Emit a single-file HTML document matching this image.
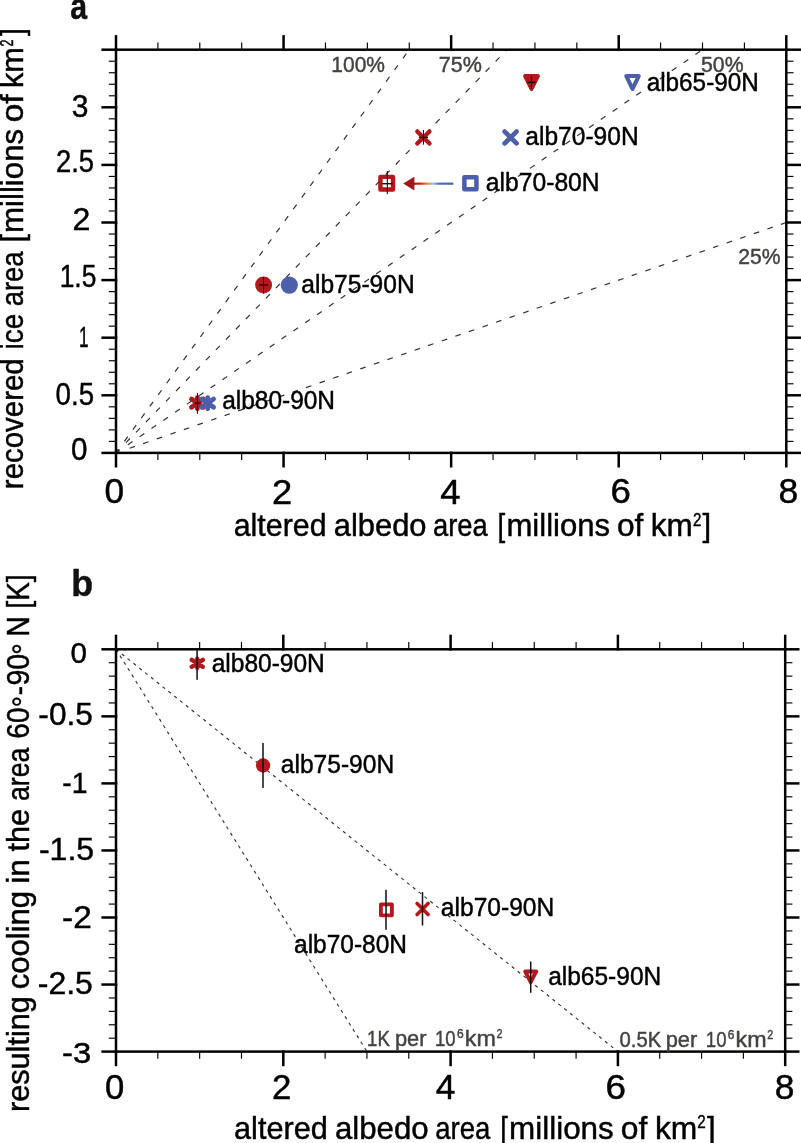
<!DOCTYPE html>
<html><head><meta charset="utf-8"><title>figure</title>
<style>html,body{margin:0;padding:0;background:#fff}svg{display:block}</style></head>
<body>
<svg width="801" height="1143" viewBox="0 0 801 1143" font-family="Liberation Sans, sans-serif">
<defs><linearGradient id="g" x1="0" x2="1" y1="0" y2="0"><stop offset="0" stop-color="#A01A1A"/><stop offset="0.18" stop-color="#C8241C"/><stop offset="0.36" stop-color="#F08C28"/><stop offset="0.5" stop-color="#8CC8F0"/><stop offset="0.64" stop-color="#5070C0"/><stop offset="1" stop-color="#4D5EAB"/></linearGradient></defs>
<rect width="801" height="1143" fill="#fff"/>
<line x1="124.44" y1="441.29" x2="409.26" y2="49.70" stroke="#333" stroke-width="1.2" stroke-dasharray="5.7 8.650"/>
<line x1="125.99" y1="442.60" x2="507.01" y2="49.70" stroke="#333" stroke-width="1.2" stroke-dasharray="5.7 8.650"/>
<line x1="127.83" y1="444.77" x2="702.51" y2="49.70" stroke="#333" stroke-width="1.2" stroke-dasharray="5.7 8.650"/>
<line x1="129.57" y1="448.24" x2="786.30" y2="222.50" stroke="#333" stroke-width="1.2" stroke-dasharray="5.7 8.650"/>
<circle cx="118.4" cy="450.5" r="1.45" fill="#333"/>
<rect x="116.00" y="49.70" width="670.30" height="403.20" fill="none" stroke="#000" stroke-width="2.5"/>
<line x1="116.00" y1="50.95" x2="116.00" y2="35.10" stroke="#000" stroke-width="2.5" />
<line x1="116.00" y1="451.65" x2="116.00" y2="467.50" stroke="#000" stroke-width="2.5" />
<line x1="157.89" y1="49.70" x2="157.89" y2="42.50" stroke="#000" stroke-width="1.15" />
<line x1="157.89" y1="452.90" x2="157.89" y2="460.10" stroke="#000" stroke-width="1.15" />
<line x1="199.79" y1="49.70" x2="199.79" y2="42.50" stroke="#000" stroke-width="1.15" />
<line x1="199.79" y1="452.90" x2="199.79" y2="460.10" stroke="#000" stroke-width="1.15" />
<line x1="241.68" y1="49.70" x2="241.68" y2="42.50" stroke="#000" stroke-width="1.15" />
<line x1="241.68" y1="452.90" x2="241.68" y2="460.10" stroke="#000" stroke-width="1.15" />
<line x1="283.57" y1="50.95" x2="283.57" y2="35.10" stroke="#000" stroke-width="2.5" />
<line x1="283.57" y1="451.65" x2="283.57" y2="467.50" stroke="#000" stroke-width="2.5" />
<line x1="325.47" y1="49.70" x2="325.47" y2="42.50" stroke="#000" stroke-width="1.15" />
<line x1="325.47" y1="452.90" x2="325.47" y2="460.10" stroke="#000" stroke-width="1.15" />
<line x1="367.36" y1="49.70" x2="367.36" y2="42.50" stroke="#000" stroke-width="1.15" />
<line x1="367.36" y1="452.90" x2="367.36" y2="460.10" stroke="#000" stroke-width="1.15" />
<line x1="409.26" y1="49.70" x2="409.26" y2="42.50" stroke="#000" stroke-width="1.15" />
<line x1="409.26" y1="452.90" x2="409.26" y2="460.10" stroke="#000" stroke-width="1.15" />
<line x1="451.15" y1="50.95" x2="451.15" y2="35.10" stroke="#000" stroke-width="2.5" />
<line x1="451.15" y1="451.65" x2="451.15" y2="467.50" stroke="#000" stroke-width="2.5" />
<line x1="493.04" y1="49.70" x2="493.04" y2="42.50" stroke="#000" stroke-width="1.15" />
<line x1="493.04" y1="452.90" x2="493.04" y2="460.10" stroke="#000" stroke-width="1.15" />
<line x1="534.94" y1="49.70" x2="534.94" y2="42.50" stroke="#000" stroke-width="1.15" />
<line x1="534.94" y1="452.90" x2="534.94" y2="460.10" stroke="#000" stroke-width="1.15" />
<line x1="576.83" y1="49.70" x2="576.83" y2="42.50" stroke="#000" stroke-width="1.15" />
<line x1="576.83" y1="452.90" x2="576.83" y2="460.10" stroke="#000" stroke-width="1.15" />
<line x1="618.72" y1="50.95" x2="618.72" y2="35.10" stroke="#000" stroke-width="2.5" />
<line x1="618.72" y1="451.65" x2="618.72" y2="467.50" stroke="#000" stroke-width="2.5" />
<line x1="660.62" y1="49.70" x2="660.62" y2="42.50" stroke="#000" stroke-width="1.15" />
<line x1="660.62" y1="452.90" x2="660.62" y2="460.10" stroke="#000" stroke-width="1.15" />
<line x1="702.51" y1="49.70" x2="702.51" y2="42.50" stroke="#000" stroke-width="1.15" />
<line x1="702.51" y1="452.90" x2="702.51" y2="460.10" stroke="#000" stroke-width="1.15" />
<line x1="744.41" y1="49.70" x2="744.41" y2="42.50" stroke="#000" stroke-width="1.15" />
<line x1="744.41" y1="452.90" x2="744.41" y2="460.10" stroke="#000" stroke-width="1.15" />
<line x1="786.30" y1="50.95" x2="786.30" y2="35.10" stroke="#000" stroke-width="2.5" />
<line x1="786.30" y1="451.65" x2="786.30" y2="467.50" stroke="#000" stroke-width="2.5" />
<line x1="117.25" y1="452.90" x2="101.40" y2="452.90" stroke="#000" stroke-width="2.5" />
<line x1="785.05" y1="452.90" x2="801.90" y2="452.90" stroke="#000" stroke-width="2.5" />
<line x1="117.25" y1="395.30" x2="101.40" y2="395.30" stroke="#000" stroke-width="2.5" />
<line x1="785.05" y1="395.30" x2="801.90" y2="395.30" stroke="#000" stroke-width="2.5" />
<line x1="117.25" y1="337.70" x2="101.40" y2="337.70" stroke="#000" stroke-width="2.5" />
<line x1="785.05" y1="337.70" x2="801.90" y2="337.70" stroke="#000" stroke-width="2.5" />
<line x1="117.25" y1="280.10" x2="101.40" y2="280.10" stroke="#000" stroke-width="2.5" />
<line x1="785.05" y1="280.10" x2="801.90" y2="280.10" stroke="#000" stroke-width="2.5" />
<line x1="117.25" y1="222.50" x2="101.40" y2="222.50" stroke="#000" stroke-width="2.5" />
<line x1="785.05" y1="222.50" x2="801.90" y2="222.50" stroke="#000" stroke-width="2.5" />
<line x1="117.25" y1="164.90" x2="101.40" y2="164.90" stroke="#000" stroke-width="2.5" />
<line x1="785.05" y1="164.90" x2="801.90" y2="164.90" stroke="#000" stroke-width="2.5" />
<line x1="117.25" y1="107.30" x2="101.40" y2="107.30" stroke="#000" stroke-width="2.5" />
<line x1="785.05" y1="107.30" x2="801.90" y2="107.30" stroke="#000" stroke-width="2.5" />
<line x1="117.25" y1="49.70" x2="101.40" y2="49.70" stroke="#000" stroke-width="2.5" />
<line x1="785.05" y1="49.70" x2="801.90" y2="49.70" stroke="#000" stroke-width="2.5" />
<line x1="116.00" y1="441.38" x2="108.80" y2="441.38" stroke="#000" stroke-width="1.15" />
<line x1="786.30" y1="441.38" x2="793.50" y2="441.38" stroke="#000" stroke-width="1.15" />
<line x1="116.00" y1="429.86" x2="108.80" y2="429.86" stroke="#000" stroke-width="1.15" />
<line x1="786.30" y1="429.86" x2="793.50" y2="429.86" stroke="#000" stroke-width="1.15" />
<line x1="116.00" y1="418.34" x2="108.80" y2="418.34" stroke="#000" stroke-width="1.15" />
<line x1="786.30" y1="418.34" x2="793.50" y2="418.34" stroke="#000" stroke-width="1.15" />
<line x1="116.00" y1="406.82" x2="108.80" y2="406.82" stroke="#000" stroke-width="1.15" />
<line x1="786.30" y1="406.82" x2="793.50" y2="406.82" stroke="#000" stroke-width="1.15" />
<line x1="116.00" y1="383.78" x2="108.80" y2="383.78" stroke="#000" stroke-width="1.15" />
<line x1="786.30" y1="383.78" x2="793.50" y2="383.78" stroke="#000" stroke-width="1.15" />
<line x1="116.00" y1="372.26" x2="108.80" y2="372.26" stroke="#000" stroke-width="1.15" />
<line x1="786.30" y1="372.26" x2="793.50" y2="372.26" stroke="#000" stroke-width="1.15" />
<line x1="116.00" y1="360.74" x2="108.80" y2="360.74" stroke="#000" stroke-width="1.15" />
<line x1="786.30" y1="360.74" x2="793.50" y2="360.74" stroke="#000" stroke-width="1.15" />
<line x1="116.00" y1="349.22" x2="108.80" y2="349.22" stroke="#000" stroke-width="1.15" />
<line x1="786.30" y1="349.22" x2="793.50" y2="349.22" stroke="#000" stroke-width="1.15" />
<line x1="116.00" y1="326.18" x2="108.80" y2="326.18" stroke="#000" stroke-width="1.15" />
<line x1="786.30" y1="326.18" x2="793.50" y2="326.18" stroke="#000" stroke-width="1.15" />
<line x1="116.00" y1="314.66" x2="108.80" y2="314.66" stroke="#000" stroke-width="1.15" />
<line x1="786.30" y1="314.66" x2="793.50" y2="314.66" stroke="#000" stroke-width="1.15" />
<line x1="116.00" y1="303.14" x2="108.80" y2="303.14" stroke="#000" stroke-width="1.15" />
<line x1="786.30" y1="303.14" x2="793.50" y2="303.14" stroke="#000" stroke-width="1.15" />
<line x1="116.00" y1="291.62" x2="108.80" y2="291.62" stroke="#000" stroke-width="1.15" />
<line x1="786.30" y1="291.62" x2="793.50" y2="291.62" stroke="#000" stroke-width="1.15" />
<line x1="116.00" y1="268.58" x2="108.80" y2="268.58" stroke="#000" stroke-width="1.15" />
<line x1="786.30" y1="268.58" x2="793.50" y2="268.58" stroke="#000" stroke-width="1.15" />
<line x1="116.00" y1="257.06" x2="108.80" y2="257.06" stroke="#000" stroke-width="1.15" />
<line x1="786.30" y1="257.06" x2="793.50" y2="257.06" stroke="#000" stroke-width="1.15" />
<line x1="116.00" y1="245.54" x2="108.80" y2="245.54" stroke="#000" stroke-width="1.15" />
<line x1="786.30" y1="245.54" x2="793.50" y2="245.54" stroke="#000" stroke-width="1.15" />
<line x1="116.00" y1="234.02" x2="108.80" y2="234.02" stroke="#000" stroke-width="1.15" />
<line x1="786.30" y1="234.02" x2="793.50" y2="234.02" stroke="#000" stroke-width="1.15" />
<line x1="116.00" y1="210.98" x2="108.80" y2="210.98" stroke="#000" stroke-width="1.15" />
<line x1="786.30" y1="210.98" x2="793.50" y2="210.98" stroke="#000" stroke-width="1.15" />
<line x1="116.00" y1="199.46" x2="108.80" y2="199.46" stroke="#000" stroke-width="1.15" />
<line x1="786.30" y1="199.46" x2="793.50" y2="199.46" stroke="#000" stroke-width="1.15" />
<line x1="116.00" y1="187.94" x2="108.80" y2="187.94" stroke="#000" stroke-width="1.15" />
<line x1="786.30" y1="187.94" x2="793.50" y2="187.94" stroke="#000" stroke-width="1.15" />
<line x1="116.00" y1="176.42" x2="108.80" y2="176.42" stroke="#000" stroke-width="1.15" />
<line x1="786.30" y1="176.42" x2="793.50" y2="176.42" stroke="#000" stroke-width="1.15" />
<line x1="116.00" y1="153.38" x2="108.80" y2="153.38" stroke="#000" stroke-width="1.15" />
<line x1="786.30" y1="153.38" x2="793.50" y2="153.38" stroke="#000" stroke-width="1.15" />
<line x1="116.00" y1="141.86" x2="108.80" y2="141.86" stroke="#000" stroke-width="1.15" />
<line x1="786.30" y1="141.86" x2="793.50" y2="141.86" stroke="#000" stroke-width="1.15" />
<line x1="116.00" y1="130.34" x2="108.80" y2="130.34" stroke="#000" stroke-width="1.15" />
<line x1="786.30" y1="130.34" x2="793.50" y2="130.34" stroke="#000" stroke-width="1.15" />
<line x1="116.00" y1="118.82" x2="108.80" y2="118.82" stroke="#000" stroke-width="1.15" />
<line x1="786.30" y1="118.82" x2="793.50" y2="118.82" stroke="#000" stroke-width="1.15" />
<line x1="116.00" y1="95.78" x2="108.80" y2="95.78" stroke="#000" stroke-width="1.15" />
<line x1="786.30" y1="95.78" x2="793.50" y2="95.78" stroke="#000" stroke-width="1.15" />
<line x1="116.00" y1="84.26" x2="108.80" y2="84.26" stroke="#000" stroke-width="1.15" />
<line x1="786.30" y1="84.26" x2="793.50" y2="84.26" stroke="#000" stroke-width="1.15" />
<line x1="116.00" y1="72.74" x2="108.80" y2="72.74" stroke="#000" stroke-width="1.15" />
<line x1="786.30" y1="72.74" x2="793.50" y2="72.74" stroke="#000" stroke-width="1.15" />
<line x1="116.00" y1="61.22" x2="108.80" y2="61.22" stroke="#000" stroke-width="1.15" />
<line x1="786.30" y1="61.22" x2="793.50" y2="61.22" stroke="#000" stroke-width="1.15" />
<text x="331.32" y="71.63" font-size="22.78" fill="#454341" stroke="#454341" stroke-width="0.45" font-weight="normal" textLength="53.63" lengthAdjust="spacingAndGlyphs">100%</text>
<text x="438.85" y="71.63" font-size="22.96" fill="#454341" stroke="#454341" stroke-width="0.45" font-weight="normal" textLength="43.13" lengthAdjust="spacingAndGlyphs">75%</text>
<text x="701.02" y="71.63" font-size="22.78" fill="#454341" stroke="#454341" stroke-width="0.45" font-weight="normal" textLength="42.54" lengthAdjust="spacingAndGlyphs">50%</text>
<text x="738.37" y="263.53" font-size="22.78" fill="#454341" stroke="#454341" stroke-width="0.45" font-weight="normal" textLength="42.28" lengthAdjust="spacingAndGlyphs">25%</text>
<path d="M197.40 397.60L197.40 408.80M191.50 399.07L203.30 407.33M191.50 407.33L203.30 399.07" stroke="#B5171C" stroke-width="4.8" stroke-linecap="round" fill="none"/>
<circle cx="263.60" cy="285.00" r="8.5" fill="#B5171C"/>
<rect x="380.40" y="176.90" width="12.6" height="12.6" fill="#fff" stroke="#B5171C" stroke-width="4.4" stroke-linejoin="round"/>
<path d="M417.30 131.40L429.50 143.60M417.30 143.60L429.50 131.40" stroke="#B5171C" stroke-width="4.3" stroke-linecap="round" fill="none"/>
<path d="M525.10 76.00L537.90 76.00L531.50 88.90Z" fill="#B5171C" stroke="#B5171C" stroke-width="4" stroke-linejoin="round"/>
<rect x="413" y="182.55" width="40.3" height="2.2" fill="url(#g)"/>
<path d="M403.2 183.6L414.4 176.8L414.4 190.4Z" fill="#9C1A1A"/>
<path d="M207.70 397.60L207.70 408.80M201.80 399.07L213.60 407.33M201.80 407.33L213.60 399.07" stroke="#4D5EAB" stroke-width="4.8" stroke-linecap="round" fill="none"/>
<circle cx="289.30" cy="285.10" r="8.6" fill="#4D5EAB"/>
<rect x="464.35" y="177.25" width="12.1" height="12.1" fill="#fff" stroke="#4D5EAB" stroke-width="4.5" stroke-linejoin="round"/>
<path d="M504.65 131.55L516.55 143.45M504.65 143.45L516.55 131.55" stroke="#4D5EAB" stroke-width="4.7" stroke-linecap="round" fill="none"/>
<path d="M626.30 76.05L638.70 76.05L632.50 88.95Z" fill="#fff" stroke="#4D5EAB" stroke-width="4.1" stroke-linejoin="round"/>
<line x1="197.40" y1="393.00" x2="197.40" y2="413.80" stroke="#000" stroke-width="1.0" />
<line x1="194.60" y1="403.20" x2="200.20" y2="403.20" stroke="#300" stroke-width="1.4" />
<line x1="263.50" y1="277.00" x2="263.50" y2="293.50" stroke="#000" stroke-width="1.0" />
<line x1="259.00" y1="285.00" x2="268.00" y2="285.00" stroke="#300" stroke-width="1.4" />
<line x1="387.30" y1="171.00" x2="387.30" y2="194.20" stroke="#000" stroke-width="1.0" />
<line x1="382.10" y1="183.70" x2="392.50" y2="183.70" stroke="#300" stroke-width="1.4" />
<line x1="423.40" y1="130.00" x2="423.40" y2="144.70" stroke="#000" stroke-width="1.0" />
<line x1="418.80" y1="137.40" x2="428.00" y2="137.40" stroke="#300" stroke-width="1.4" />
<line x1="531.40" y1="76.20" x2="531.40" y2="88.70" stroke="#000" stroke-width="1.0" />
<line x1="527.40" y1="82.40" x2="535.40" y2="82.40" stroke="#300" stroke-width="1.4" />
<text x="646.68" y="91.40" font-size="25" fill="#000" stroke="#000" stroke-width="0.45" font-weight="normal" textLength="112.14" lengthAdjust="spacingAndGlyphs">alb65-90N</text>
<text x="525.37" y="144.60" font-size="25" fill="#000" stroke="#000" stroke-width="0.45" font-weight="normal" textLength="113.27" lengthAdjust="spacingAndGlyphs">alb70-90N</text>
<text x="485.86" y="190.80" font-size="25" fill="#000" stroke="#000" stroke-width="0.45" font-weight="normal" textLength="113.78" lengthAdjust="spacingAndGlyphs">alb70-80N</text>
<text x="301.37" y="293.20" font-size="25" fill="#000" stroke="#000" stroke-width="0.45" font-weight="normal" textLength="113.27" lengthAdjust="spacingAndGlyphs">alb75-90N</text>
<text x="222.17" y="409.40" font-size="25" fill="#000" stroke="#000" stroke-width="0.45" font-weight="normal" textLength="112.86" lengthAdjust="spacingAndGlyphs">alb80-90N</text>
<text x="71.81" y="116.67" font-size="30.8" fill="#000" stroke="#000" stroke-width="0.45" font-weight="normal" textLength="16.70" lengthAdjust="spacingAndGlyphs">3</text>
<text x="55.91" y="171.67" font-size="30.8" fill="#000" stroke="#000" stroke-width="0.45" font-weight="normal" textLength="38.11" lengthAdjust="spacingAndGlyphs">2.5</text>
<text x="72.59" y="229.50" font-size="30.71" fill="#000" stroke="#000" stroke-width="0.45" font-weight="normal" textLength="17.81" lengthAdjust="spacingAndGlyphs">2</text>
<text x="59.65" y="286.97" font-size="30.86" fill="#000" stroke="#000" stroke-width="0.45" font-weight="normal" textLength="36.76" lengthAdjust="spacingAndGlyphs">1.5</text>
<text x="79.10" y="347.00" font-size="29.9" fill="#000" stroke="#000" stroke-width="0.45" font-weight="normal" textLength="9.59" lengthAdjust="spacingAndGlyphs">1</text>
<text x="55.60" y="404.77" font-size="30.8" fill="#000" stroke="#000" stroke-width="0.45" font-weight="normal" textLength="38.43" lengthAdjust="spacingAndGlyphs">0.5</text>
<text x="70.93" y="460.47" font-size="30.94" fill="#000" stroke="#000" stroke-width="0.45" font-weight="normal" textLength="16.47" lengthAdjust="spacingAndGlyphs">0</text>
<text x="104.60" y="503.37" font-size="34.73" fill="#000" stroke="#000" stroke-width="0.45" font-weight="normal" textLength="19.59" lengthAdjust="spacingAndGlyphs">0</text>
<text x="272.06" y="503.70" font-size="35.29" fill="#000" stroke="#000" stroke-width="0.45" font-weight="normal" textLength="20.24" lengthAdjust="spacingAndGlyphs">2</text>
<text x="440.20" y="503.87" font-size="35.85" fill="#000" stroke="#000" stroke-width="0.45" font-weight="normal" textLength="20.27" lengthAdjust="spacingAndGlyphs">4</text>
<text x="610.41" y="503.37" font-size="34.73" fill="#000" stroke="#000" stroke-width="0.45" font-weight="normal" textLength="20.40" lengthAdjust="spacingAndGlyphs">6</text>
<text x="778.52" y="503.37" font-size="34.73" fill="#000" stroke="#000" stroke-width="0.45" font-weight="normal" textLength="19.75" lengthAdjust="spacingAndGlyphs">8</text>
<text y="536.00" font-size="31" fill="#000" stroke="#000" stroke-width="0.45"><tspan x="233.74" textLength="92.82" lengthAdjust="spacingAndGlyphs">altered</tspan> <tspan x="333.72" textLength="92.78" lengthAdjust="spacingAndGlyphs">albedo</tspan> <tspan x="433.07" textLength="54.72" lengthAdjust="spacingAndGlyphs">area</tspan> <tspan x="497.42" textLength="7.68" lengthAdjust="spacingAndGlyphs">[</tspan><tspan x="506.44" textLength="103.70" lengthAdjust="spacingAndGlyphs">millions</tspan> <tspan x="616.99" textLength="26.38" lengthAdjust="spacingAndGlyphs">of</tspan> <tspan x="650.85" textLength="42.03" lengthAdjust="spacingAndGlyphs">km</tspan><tspan x="692.93" dy="-10.40" font-size="18.5" textLength="8.40" lengthAdjust="spacingAndGlyphs">2</tspan><tspan x="702.58" dy="10.40" textLength="8.66" lengthAdjust="spacingAndGlyphs">]</tspan></text>
<g transform="translate(23.0,487.6) rotate(-90)">
<text y="0.00" font-size="30.5" fill="#000" stroke="#000" stroke-width="0.45"><tspan x="-1.58" textLength="130.92" lengthAdjust="spacingAndGlyphs">recovered</tspan> <tspan x="138.22" textLength="35.75" lengthAdjust="spacingAndGlyphs">ice</tspan> <tspan x="181.36" textLength="54.64" lengthAdjust="spacingAndGlyphs">area</tspan> <tspan x="245.05" textLength="8.62" lengthAdjust="spacingAndGlyphs">[</tspan><tspan x="254.71" textLength="103.96" lengthAdjust="spacingAndGlyphs">millions</tspan> <tspan x="365.07" textLength="28.21" lengthAdjust="spacingAndGlyphs">of</tspan> <tspan x="399.54" textLength="40.92" lengthAdjust="spacingAndGlyphs">km</tspan><tspan x="441.07" dy="-10.30" font-size="18" textLength="6.97" lengthAdjust="spacingAndGlyphs">2</tspan><tspan x="451.50" dy="10.30" textLength="7.70" lengthAdjust="spacingAndGlyphs">]</tspan></text>
</g>
<text x="70.23" y="18.50" font-size="36.8" fill="#111" stroke="#111" stroke-width="0.45" font-weight="bold" textLength="16.86" lengthAdjust="spacingAndGlyphs">a</text>
<line x1="116.00" y1="649.30" x2="366.95" y2="1051.60" stroke="#333" stroke-width="1.15" stroke-dasharray="3.2 4.260"/>
<line x1="116.00" y1="649.30" x2="617.90" y2="1051.60" stroke="#333" stroke-width="1.15" stroke-dasharray="3.2 4.260"/>
<rect x="116.00" y="649.30" width="669.20" height="402.30" fill="none" stroke="#000" stroke-width="2.5"/>
<line x1="116.00" y1="650.55" x2="116.00" y2="634.70" stroke="#000" stroke-width="2.5" />
<line x1="116.00" y1="1050.35" x2="116.00" y2="1066.20" stroke="#000" stroke-width="2.5" />
<line x1="157.82" y1="649.30" x2="157.82" y2="642.10" stroke="#000" stroke-width="1.15" />
<line x1="157.82" y1="1051.60" x2="157.82" y2="1058.80" stroke="#000" stroke-width="1.15" />
<line x1="199.65" y1="649.30" x2="199.65" y2="642.10" stroke="#000" stroke-width="1.15" />
<line x1="199.65" y1="1051.60" x2="199.65" y2="1058.80" stroke="#000" stroke-width="1.15" />
<line x1="241.48" y1="649.30" x2="241.48" y2="642.10" stroke="#000" stroke-width="1.15" />
<line x1="241.48" y1="1051.60" x2="241.48" y2="1058.80" stroke="#000" stroke-width="1.15" />
<line x1="283.30" y1="650.55" x2="283.30" y2="634.70" stroke="#000" stroke-width="2.5" />
<line x1="283.30" y1="1050.35" x2="283.30" y2="1066.20" stroke="#000" stroke-width="2.5" />
<line x1="325.12" y1="649.30" x2="325.12" y2="642.10" stroke="#000" stroke-width="1.15" />
<line x1="325.12" y1="1051.60" x2="325.12" y2="1058.80" stroke="#000" stroke-width="1.15" />
<line x1="366.95" y1="649.30" x2="366.95" y2="642.10" stroke="#000" stroke-width="1.15" />
<line x1="366.95" y1="1051.60" x2="366.95" y2="1058.80" stroke="#000" stroke-width="1.15" />
<line x1="408.78" y1="649.30" x2="408.78" y2="642.10" stroke="#000" stroke-width="1.15" />
<line x1="408.78" y1="1051.60" x2="408.78" y2="1058.80" stroke="#000" stroke-width="1.15" />
<line x1="450.60" y1="650.55" x2="450.60" y2="634.70" stroke="#000" stroke-width="2.5" />
<line x1="450.60" y1="1050.35" x2="450.60" y2="1066.20" stroke="#000" stroke-width="2.5" />
<line x1="492.43" y1="649.30" x2="492.43" y2="642.10" stroke="#000" stroke-width="1.15" />
<line x1="492.43" y1="1051.60" x2="492.43" y2="1058.80" stroke="#000" stroke-width="1.15" />
<line x1="534.25" y1="649.30" x2="534.25" y2="642.10" stroke="#000" stroke-width="1.15" />
<line x1="534.25" y1="1051.60" x2="534.25" y2="1058.80" stroke="#000" stroke-width="1.15" />
<line x1="576.08" y1="649.30" x2="576.08" y2="642.10" stroke="#000" stroke-width="1.15" />
<line x1="576.08" y1="1051.60" x2="576.08" y2="1058.80" stroke="#000" stroke-width="1.15" />
<line x1="617.90" y1="650.55" x2="617.90" y2="634.70" stroke="#000" stroke-width="2.5" />
<line x1="617.90" y1="1050.35" x2="617.90" y2="1066.20" stroke="#000" stroke-width="2.5" />
<line x1="659.73" y1="649.30" x2="659.73" y2="642.10" stroke="#000" stroke-width="1.15" />
<line x1="659.73" y1="1051.60" x2="659.73" y2="1058.80" stroke="#000" stroke-width="1.15" />
<line x1="701.55" y1="649.30" x2="701.55" y2="642.10" stroke="#000" stroke-width="1.15" />
<line x1="701.55" y1="1051.60" x2="701.55" y2="1058.80" stroke="#000" stroke-width="1.15" />
<line x1="743.38" y1="649.30" x2="743.38" y2="642.10" stroke="#000" stroke-width="1.15" />
<line x1="743.38" y1="1051.60" x2="743.38" y2="1058.80" stroke="#000" stroke-width="1.15" />
<line x1="785.20" y1="650.55" x2="785.20" y2="634.70" stroke="#000" stroke-width="2.5" />
<line x1="785.20" y1="1050.35" x2="785.20" y2="1066.20" stroke="#000" stroke-width="2.5" />
<line x1="117.25" y1="649.30" x2="101.40" y2="649.30" stroke="#000" stroke-width="2.5" />
<line x1="783.95" y1="649.30" x2="799.50" y2="649.30" stroke="#000" stroke-width="2.5" />
<line x1="117.25" y1="716.35" x2="101.40" y2="716.35" stroke="#000" stroke-width="2.5" />
<line x1="783.95" y1="716.35" x2="799.50" y2="716.35" stroke="#000" stroke-width="2.5" />
<line x1="117.25" y1="783.40" x2="101.40" y2="783.40" stroke="#000" stroke-width="2.5" />
<line x1="783.95" y1="783.40" x2="799.50" y2="783.40" stroke="#000" stroke-width="2.5" />
<line x1="117.25" y1="850.45" x2="101.40" y2="850.45" stroke="#000" stroke-width="2.5" />
<line x1="783.95" y1="850.45" x2="799.50" y2="850.45" stroke="#000" stroke-width="2.5" />
<line x1="117.25" y1="917.50" x2="101.40" y2="917.50" stroke="#000" stroke-width="2.5" />
<line x1="783.95" y1="917.50" x2="799.50" y2="917.50" stroke="#000" stroke-width="2.5" />
<line x1="117.25" y1="984.55" x2="101.40" y2="984.55" stroke="#000" stroke-width="2.5" />
<line x1="783.95" y1="984.55" x2="799.50" y2="984.55" stroke="#000" stroke-width="2.5" />
<line x1="117.25" y1="1051.60" x2="101.40" y2="1051.60" stroke="#000" stroke-width="2.5" />
<line x1="783.95" y1="1051.60" x2="799.50" y2="1051.60" stroke="#000" stroke-width="2.5" />
<line x1="116.00" y1="662.71" x2="108.80" y2="662.71" stroke="#000" stroke-width="1.15" />
<line x1="785.20" y1="662.71" x2="792.40" y2="662.71" stroke="#000" stroke-width="1.15" />
<line x1="116.00" y1="676.12" x2="108.80" y2="676.12" stroke="#000" stroke-width="1.15" />
<line x1="785.20" y1="676.12" x2="792.40" y2="676.12" stroke="#000" stroke-width="1.15" />
<line x1="116.00" y1="689.53" x2="108.80" y2="689.53" stroke="#000" stroke-width="1.15" />
<line x1="785.20" y1="689.53" x2="792.40" y2="689.53" stroke="#000" stroke-width="1.15" />
<line x1="116.00" y1="702.94" x2="108.80" y2="702.94" stroke="#000" stroke-width="1.15" />
<line x1="785.20" y1="702.94" x2="792.40" y2="702.94" stroke="#000" stroke-width="1.15" />
<line x1="116.00" y1="729.76" x2="108.80" y2="729.76" stroke="#000" stroke-width="1.15" />
<line x1="785.20" y1="729.76" x2="792.40" y2="729.76" stroke="#000" stroke-width="1.15" />
<line x1="116.00" y1="743.17" x2="108.80" y2="743.17" stroke="#000" stroke-width="1.15" />
<line x1="785.20" y1="743.17" x2="792.40" y2="743.17" stroke="#000" stroke-width="1.15" />
<line x1="116.00" y1="756.58" x2="108.80" y2="756.58" stroke="#000" stroke-width="1.15" />
<line x1="785.20" y1="756.58" x2="792.40" y2="756.58" stroke="#000" stroke-width="1.15" />
<line x1="116.00" y1="769.99" x2="108.80" y2="769.99" stroke="#000" stroke-width="1.15" />
<line x1="785.20" y1="769.99" x2="792.40" y2="769.99" stroke="#000" stroke-width="1.15" />
<line x1="116.00" y1="796.81" x2="108.80" y2="796.81" stroke="#000" stroke-width="1.15" />
<line x1="785.20" y1="796.81" x2="792.40" y2="796.81" stroke="#000" stroke-width="1.15" />
<line x1="116.00" y1="810.22" x2="108.80" y2="810.22" stroke="#000" stroke-width="1.15" />
<line x1="785.20" y1="810.22" x2="792.40" y2="810.22" stroke="#000" stroke-width="1.15" />
<line x1="116.00" y1="823.63" x2="108.80" y2="823.63" stroke="#000" stroke-width="1.15" />
<line x1="785.20" y1="823.63" x2="792.40" y2="823.63" stroke="#000" stroke-width="1.15" />
<line x1="116.00" y1="837.04" x2="108.80" y2="837.04" stroke="#000" stroke-width="1.15" />
<line x1="785.20" y1="837.04" x2="792.40" y2="837.04" stroke="#000" stroke-width="1.15" />
<line x1="116.00" y1="863.86" x2="108.80" y2="863.86" stroke="#000" stroke-width="1.15" />
<line x1="785.20" y1="863.86" x2="792.40" y2="863.86" stroke="#000" stroke-width="1.15" />
<line x1="116.00" y1="877.27" x2="108.80" y2="877.27" stroke="#000" stroke-width="1.15" />
<line x1="785.20" y1="877.27" x2="792.40" y2="877.27" stroke="#000" stroke-width="1.15" />
<line x1="116.00" y1="890.68" x2="108.80" y2="890.68" stroke="#000" stroke-width="1.15" />
<line x1="785.20" y1="890.68" x2="792.40" y2="890.68" stroke="#000" stroke-width="1.15" />
<line x1="116.00" y1="904.09" x2="108.80" y2="904.09" stroke="#000" stroke-width="1.15" />
<line x1="785.20" y1="904.09" x2="792.40" y2="904.09" stroke="#000" stroke-width="1.15" />
<line x1="116.00" y1="930.91" x2="108.80" y2="930.91" stroke="#000" stroke-width="1.15" />
<line x1="785.20" y1="930.91" x2="792.40" y2="930.91" stroke="#000" stroke-width="1.15" />
<line x1="116.00" y1="944.32" x2="108.80" y2="944.32" stroke="#000" stroke-width="1.15" />
<line x1="785.20" y1="944.32" x2="792.40" y2="944.32" stroke="#000" stroke-width="1.15" />
<line x1="116.00" y1="957.73" x2="108.80" y2="957.73" stroke="#000" stroke-width="1.15" />
<line x1="785.20" y1="957.73" x2="792.40" y2="957.73" stroke="#000" stroke-width="1.15" />
<line x1="116.00" y1="971.14" x2="108.80" y2="971.14" stroke="#000" stroke-width="1.15" />
<line x1="785.20" y1="971.14" x2="792.40" y2="971.14" stroke="#000" stroke-width="1.15" />
<line x1="116.00" y1="997.96" x2="108.80" y2="997.96" stroke="#000" stroke-width="1.15" />
<line x1="785.20" y1="997.96" x2="792.40" y2="997.96" stroke="#000" stroke-width="1.15" />
<line x1="116.00" y1="1011.37" x2="108.80" y2="1011.37" stroke="#000" stroke-width="1.15" />
<line x1="785.20" y1="1011.37" x2="792.40" y2="1011.37" stroke="#000" stroke-width="1.15" />
<line x1="116.00" y1="1024.78" x2="108.80" y2="1024.78" stroke="#000" stroke-width="1.15" />
<line x1="785.20" y1="1024.78" x2="792.40" y2="1024.78" stroke="#000" stroke-width="1.15" />
<line x1="116.00" y1="1038.19" x2="108.80" y2="1038.19" stroke="#000" stroke-width="1.15" />
<line x1="785.20" y1="1038.19" x2="792.40" y2="1038.19" stroke="#000" stroke-width="1.15" />
<text y="1046.30" font-size="22.3" fill="#454341" stroke="#454341" stroke-width="0.45"><tspan x="367.06" textLength="22.83" lengthAdjust="spacingAndGlyphs">1K</tspan> <tspan x="394.88" textLength="31.56" lengthAdjust="spacingAndGlyphs">per</tspan> <tspan x="435.06" textLength="20.66" lengthAdjust="spacingAndGlyphs">10</tspan><tspan x="457.02" dy="-7.90" font-size="12.8" textLength="6.71" lengthAdjust="spacingAndGlyphs">6</tspan><tspan x="464.78" dy="7.90" textLength="31.02" lengthAdjust="spacingAndGlyphs">km</tspan><tspan x="496.39" dy="-7.90" font-size="12.8" textLength="5.98" lengthAdjust="spacingAndGlyphs">2</tspan></text>
<text y="1046.60" font-size="22.3" fill="#454341" stroke="#454341" stroke-width="0.45"><tspan x="619.59" textLength="41.60" lengthAdjust="spacingAndGlyphs">0.5K</tspan> <tspan x="665.68" textLength="31.56" lengthAdjust="spacingAndGlyphs">per</tspan> <tspan x="705.86" textLength="20.66" lengthAdjust="spacingAndGlyphs">10</tspan><tspan x="727.82" dy="-7.90" font-size="12.8" textLength="6.71" lengthAdjust="spacingAndGlyphs">6</tspan><tspan x="735.58" dy="7.90" textLength="31.02" lengthAdjust="spacingAndGlyphs">km</tspan><tspan x="767.19" dy="-7.90" font-size="12.8" textLength="5.98" lengthAdjust="spacingAndGlyphs">2</tspan></text>
<path d="M197.30 658.80L197.30 667.80M191.70 659.80L202.90 666.80M191.70 666.80L202.90 659.80" stroke="#B5171C" stroke-width="4.4" stroke-linecap="round" fill="none"/>
<circle cx="263.10" cy="765.50" r="7.15" fill="#B5171C"/>
<rect x="380.90" y="904.30" width="11" height="11" fill="#fff" stroke="#B5171C" stroke-width="3.8" stroke-linejoin="round"/>
<path d="M417.10 903.50L428.10 914.50M417.10 914.50L428.10 903.50" stroke="#B5171C" stroke-width="3.6" stroke-linecap="round" fill="none"/>
<path d="M525.20 971.45L536.20 971.45L530.70 982.15Z" fill="#fff" stroke="#B5171C" stroke-width="4.0" stroke-linejoin="round"/>
<line x1="197.10" y1="650.30" x2="197.10" y2="679.70" stroke="#101010" stroke-width="1.5" />
<line x1="263.00" y1="743.00" x2="263.00" y2="787.90" stroke="#101010" stroke-width="1.5" />
<line x1="386.00" y1="889.80" x2="386.00" y2="929.80" stroke="#101010" stroke-width="1.5" />
<line x1="422.50" y1="892.00" x2="422.50" y2="925.50" stroke="#101010" stroke-width="1.5" />
<line x1="530.70" y1="961.50" x2="530.70" y2="992.80" stroke="#101010" stroke-width="1.5" />
<text x="211.67" y="672.00" font-size="25" fill="#000" stroke="#000" stroke-width="0.45" font-weight="normal" textLength="113.17" lengthAdjust="spacingAndGlyphs">alb80-90N</text>
<text x="280.77" y="773.30" font-size="25" fill="#000" stroke="#000" stroke-width="0.45" font-weight="normal" textLength="113.37" lengthAdjust="spacingAndGlyphs">alb75-90N</text>
<text x="440.87" y="916.40" font-size="25" fill="#000" stroke="#000" stroke-width="0.45" font-weight="normal" textLength="113.37" lengthAdjust="spacingAndGlyphs">alb70-90N</text>
<text x="294.07" y="953.10" font-size="25" fill="#000" stroke="#000" stroke-width="0.45" font-weight="normal" textLength="112.86" lengthAdjust="spacingAndGlyphs">alb70-80N</text>
<text x="548.17" y="984.90" font-size="25" fill="#000" stroke="#000" stroke-width="0.45" font-weight="normal" textLength="113.06" lengthAdjust="spacingAndGlyphs">alb65-90N</text>
<text x="70.50" y="663.07" font-size="30.09" fill="#000" stroke="#000" stroke-width="0.45" font-weight="normal" textLength="16.46" lengthAdjust="spacingAndGlyphs">0</text>
<text x="38.38" y="724.77" font-size="30.8" fill="#000" stroke="#000" stroke-width="0.45" font-weight="normal" textLength="54.54" lengthAdjust="spacingAndGlyphs">-0.5</text>
<text x="62.29" y="792.60" font-size="30.05" fill="#000" stroke="#000" stroke-width="0.45" font-weight="normal" textLength="25.23" lengthAdjust="spacingAndGlyphs">-1</text>
<text x="38.95" y="860.47" font-size="30.43" fill="#000" stroke="#000" stroke-width="0.45" font-weight="normal" textLength="55.24" lengthAdjust="spacingAndGlyphs">-1.5</text>
<text x="62.09" y="927.60" font-size="30.43" fill="#000" stroke="#000" stroke-width="0.45" font-weight="normal" textLength="29.67" lengthAdjust="spacingAndGlyphs">-2</text>
<text x="37.76" y="993.57" font-size="30.8" fill="#000" stroke="#000" stroke-width="0.45" font-weight="normal" textLength="55.17" lengthAdjust="spacingAndGlyphs">-2.5</text>
<text x="62.08" y="1063.47" font-size="29.81" fill="#000" stroke="#000" stroke-width="0.45" font-weight="normal" textLength="29.14" lengthAdjust="spacingAndGlyphs">-3</text>
<text x="105.00" y="1098.97" font-size="34.31" fill="#000" stroke="#000" stroke-width="0.45" font-weight="normal" textLength="19.28" lengthAdjust="spacingAndGlyphs">0</text>
<text x="272.02" y="1099.30" font-size="34.86" fill="#000" stroke="#000" stroke-width="0.45" font-weight="normal" textLength="19.35" lengthAdjust="spacingAndGlyphs">2</text>
<text x="435.72" y="1099.30" font-size="35.42" fill="#000" stroke="#000" stroke-width="0.45" font-weight="normal" textLength="19.66" lengthAdjust="spacingAndGlyphs">4</text>
<text x="605.56" y="1098.97" font-size="34.31" fill="#000" stroke="#000" stroke-width="0.45" font-weight="normal" textLength="20.49" lengthAdjust="spacingAndGlyphs">6</text>
<text x="774.70" y="1098.97" font-size="34.31" fill="#000" stroke="#000" stroke-width="0.45" font-weight="normal" textLength="19.71" lengthAdjust="spacingAndGlyphs">8</text>
<text y="1138.60" font-size="31.3" fill="#000" stroke="#000" stroke-width="0.45"><tspan x="234.04" textLength="93.71" lengthAdjust="spacingAndGlyphs">altered</tspan> <tspan x="334.92" textLength="93.67" lengthAdjust="spacingAndGlyphs">albedo</tspan> <tspan x="435.17" textLength="55.14" lengthAdjust="spacingAndGlyphs">area</tspan> <tspan x="500.13" textLength="7.63" lengthAdjust="spacingAndGlyphs">[</tspan><tspan x="509.04" textLength="104.78" lengthAdjust="spacingAndGlyphs">millions</tspan> <tspan x="620.74" textLength="26.52" lengthAdjust="spacingAndGlyphs">of</tspan> <tspan x="654.91" textLength="42.44" lengthAdjust="spacingAndGlyphs">km</tspan><tspan x="697.35" dy="-10.40" font-size="18.5" textLength="8.48" lengthAdjust="spacingAndGlyphs">2</tspan><tspan x="707.09" dy="10.40" textLength="8.60" lengthAdjust="spacingAndGlyphs">]</tspan></text>
<g transform="translate(29.0,1110.4) rotate(-90)">
<text y="0.00" font-size="30.5" fill="#000" stroke="#000" stroke-width="0.45"><tspan x="-1.66" textLength="115.97" lengthAdjust="spacingAndGlyphs">resulting</tspan> <tspan x="121.09" textLength="98.48" lengthAdjust="spacingAndGlyphs">cooling</tspan> <tspan x="226.57" textLength="24.66" lengthAdjust="spacingAndGlyphs">in</tspan> <tspan x="258.85" textLength="42.51" lengthAdjust="spacingAndGlyphs">the</tspan> <tspan x="309.49" textLength="53.10" lengthAdjust="spacingAndGlyphs">area</tspan> <tspan x="371.77" textLength="31.24" lengthAdjust="spacingAndGlyphs">60</tspan><tspan x="403.10" dy="4.60" font-size="31" textLength="11.16" lengthAdjust="spacingAndGlyphs">°</tspan><tspan x="415.04" dy="-4.60" textLength="9.21" lengthAdjust="spacingAndGlyphs">-</tspan><tspan x="424.84" textLength="31.90" lengthAdjust="spacingAndGlyphs">90</tspan><tspan x="455.64" dy="4.60" font-size="31" textLength="11.59" lengthAdjust="spacingAndGlyphs">°</tspan> <tspan x="473.96" dy="-4.60" textLength="20.21" lengthAdjust="spacingAndGlyphs">N</tspan> <tspan x="501.87" textLength="34.13" lengthAdjust="spacingAndGlyphs">[K]</tspan></text>
</g>
<text x="71.25" y="596.43" font-size="36.27" fill="#111" stroke="#111" stroke-width="0.45" font-weight="bold" textLength="21.87" lengthAdjust="spacingAndGlyphs">b</text>
</svg>
</body></html>
